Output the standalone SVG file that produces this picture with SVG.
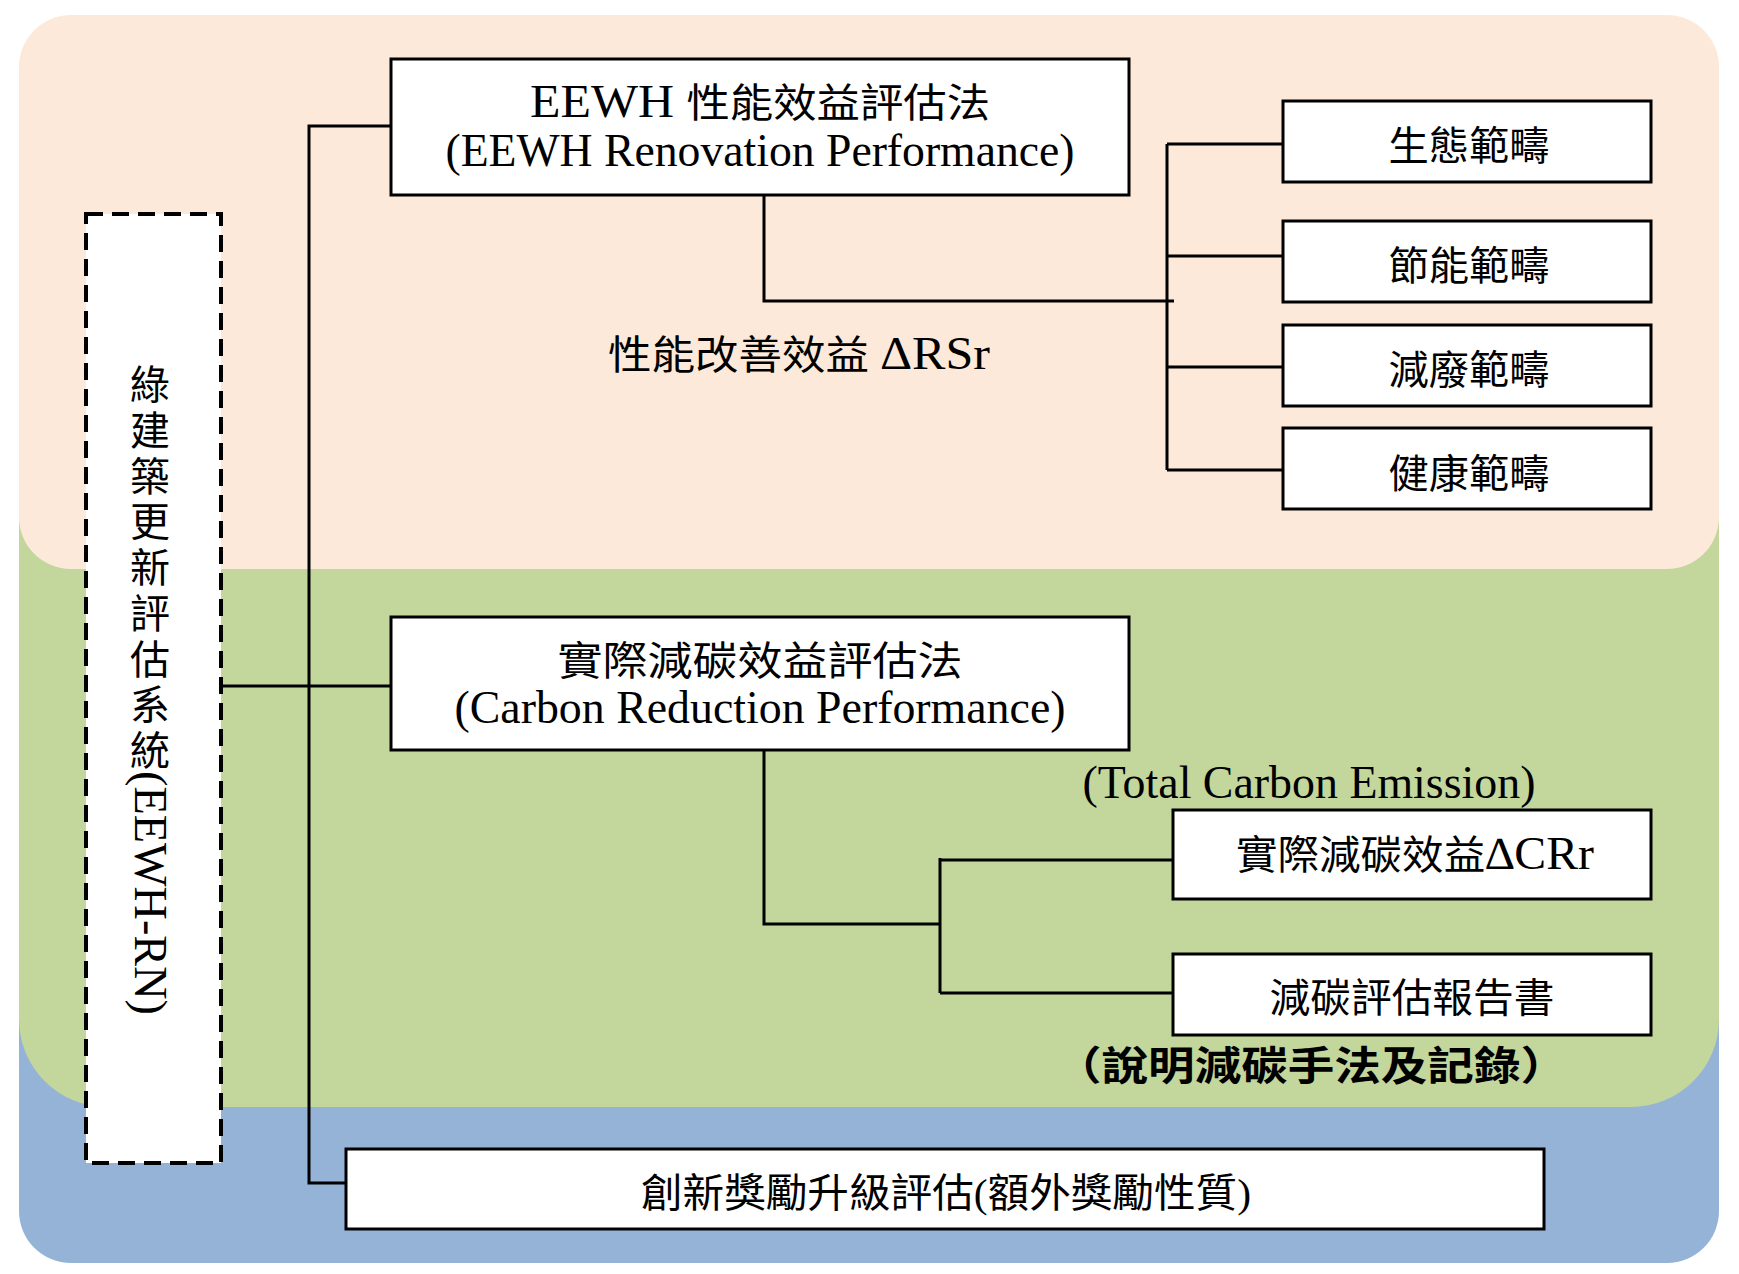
<svg xmlns="http://www.w3.org/2000/svg" width="1739" height="1274" viewBox="0 0 1739 1274">
<style>
.box{fill:#fff;stroke:#000;stroke-width:3}
.ln{fill:none;stroke:#000;stroke-width:3}
.t{font-family:"Liberation Serif","Noto Sans CJK TC",serif;fill:#000}
.lat{font-size:46px}
.cjk{font-size:40px}
.mid{text-anchor:middle}
</style>
<rect width="1739" height="1274" fill="#fff"/>
<g id="background">
<rect x="19" y="480" width="1700" height="783" rx="52" ry="52" fill="#95B3D7"/>
<rect x="19" y="380" width="1700" height="727" rx="88" ry="88" fill="#C3D69B"/>
<rect x="19" y="15" width="1700" height="554" rx="52" ry="52" fill="#FDE9D9"/>
</g>
<g id="connectors">
<polyline class="ln" points="391,126 309,126 309,1183 346,1183"/>
<line class="ln" x1="221" y1="686" x2="391" y2="686"/>
<polyline class="ln" points="764,195 764,301 1174,301"/>
<line class="ln" x1="1167" y1="144" x2="1167" y2="470"/>
<line class="ln" x1="1167" y1="144" x2="1283" y2="144"/>
<line class="ln" x1="1167" y1="256" x2="1283" y2="256"/>
<line class="ln" x1="1167" y1="367" x2="1283" y2="367"/>
<line class="ln" x1="1167" y1="470" x2="1283" y2="470"/>
<polyline class="ln" points="764,750 764,924 940,924"/>
<line class="ln" x1="940" y1="858" x2="940" y2="993"/>
<line class="ln" x1="940" y1="860" x2="1173" y2="860"/>
<line class="ln" x1="940" y1="993" x2="1173" y2="993"/>
</g>
<g id="system">
<rect x="86" y="214" width="135" height="949" fill="#fff" stroke="#000" stroke-width="4" stroke-dasharray="17 9"/>
<g class="t cjk mid">
<text x="150" y="399">綠</text>
<text x="150" y="445">建</text>
<text x="150" y="491">築</text>
<text x="150" y="536">更</text>
<text x="150" y="582">新</text>
<text x="150" y="628">評</text>
<text x="150" y="674">估</text>
<text x="150" y="719">系</text>
<text x="150" y="765">統</text>
</g>
<text class="t lat" transform="translate(150,771) rotate(90)" x="0" y="15" textLength="244" lengthAdjust="spacingAndGlyphs">(EEWH-RN)</text>
</g>
<g id="eewh">
<rect class="box" x="391" y="59" width="738" height="136"/>
<text class="t lat mid" x="760" y="117" textLength="460" lengthAdjust="spacingAndGlyphs">EEWH <tspan font-size="40">性能效益評估法</tspan></text>
<text class="t lat mid" x="760" y="166" textLength="629" lengthAdjust="spacingAndGlyphs">(EEWH Renovation Performance)</text>
</g>
<text id="rsr-label" class="t cjk mid" x="799" y="369" textLength="382" lengthAdjust="spacingAndGlyphs">性能改善效益 <tspan font-size="46">ΔRSr</tspan></text>
<g id="eco">
<rect class="box" x="1283" y="101" width="368" height="81"/>
<text class="t cjk mid" x="1469" y="160" textLength="161" lengthAdjust="spacingAndGlyphs">生態範疇</text>
</g>
<g id="energy">
<rect class="box" x="1283" y="221" width="368" height="81"/>
<text class="t cjk mid" x="1469" y="280" textLength="161" lengthAdjust="spacingAndGlyphs">節能範疇</text>
</g>
<g id="waste">
<rect class="box" x="1283" y="325" width="368" height="81"/>
<text class="t cjk mid" x="1469" y="384" textLength="161" lengthAdjust="spacingAndGlyphs">減廢範疇</text>
</g>
<g id="health">
<rect class="box" x="1283" y="428" width="368" height="81"/>
<text class="t cjk mid" x="1469" y="488" textLength="161" lengthAdjust="spacingAndGlyphs">健康範疇</text>
</g>
<g id="carbon">
<rect class="box" x="391" y="617" width="738" height="133"/>
<text class="t cjk mid" x="760" y="675" textLength="405" lengthAdjust="spacingAndGlyphs">實際減碳效益評估法</text>
<text class="t lat mid" x="760" y="723" textLength="611" lengthAdjust="spacingAndGlyphs">(Carbon Reduction Performance)</text>
</g>
<text id="tce-label" class="t lat mid" x="1309" y="798" textLength="453" lengthAdjust="spacingAndGlyphs">(Total Carbon Emission)</text>
<g id="crr">
<rect class="box" x="1173" y="810" width="478" height="89"/>
<text class="t cjk mid" x="1415" y="869" textLength="358" lengthAdjust="spacingAndGlyphs">實際減碳效益<tspan font-size="46">∆CRr</tspan></text>
</g>
<g id="report">
<rect class="box" x="1173" y="954" width="478" height="81"/>
<text class="t cjk mid" x="1412" y="1012" textLength="285" lengthAdjust="spacingAndGlyphs">減碳評估報告書</text>
</g>
<text id="note" class="t cjk mid" x="1311" y="1080" font-weight="bold" textLength="512" lengthAdjust="spacingAndGlyphs">（說明減碳手法及記錄）</text>
<g id="innovation">
<rect class="box" x="346" y="1149" width="1198" height="80"/>
<text class="t cjk mid" x="946" y="1207" textLength="610" lengthAdjust="spacingAndGlyphs">創新獎勵升級評估(額外獎勵性質)</text>
</g>
</svg>
